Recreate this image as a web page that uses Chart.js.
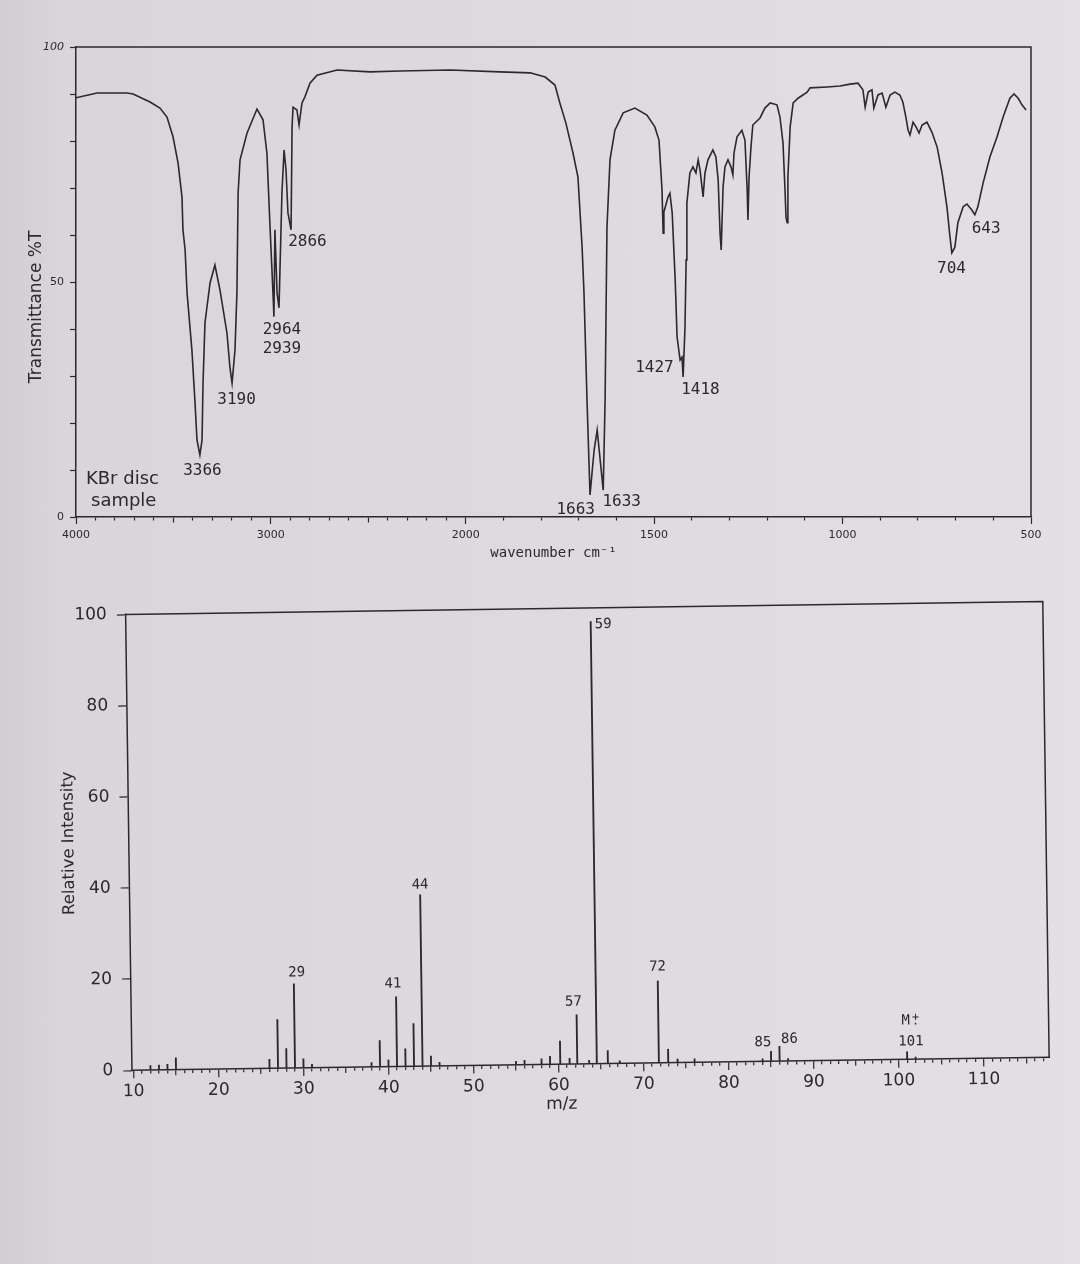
<!DOCTYPE html>
<html>
<head>
<meta charset="utf-8">
<script src="https://cdn.jsdelivr.net/npm/chart.js@4/dist/chart.umd.min.js"></script>
<style>
html,body{margin:0;padding:0;}
body{width:1080px;height:1264px;overflow:hidden;position:relative;
  background:linear-gradient(90deg,#d2cdd2 0px,#dad5da 60px,#dedade 600px,#e3e0e4 1080px);}
#irWrap{position:absolute;left:0;top:0;width:1080px;height:575px;}
#msWrap{position:absolute;left:0;top:580px;width:1080px;height:560px;}
canvas{display:block;}
</style>
</head>
<body>
<div id="irWrap"><canvas id="ir" width="1080" height="575"></canvas></div>
<div id="msWrap"><canvas id="ms" width="1080" height="560"></canvas></div>
<script>
// ---------------- IR spectrum data (wavenumber cm-1, %T) ----------------
const irWavenumber = [4000,3892,3738,3707,3620,3569,3533,3502,3476,3456,3451,3440,3430,3405,3389,3379,3364,3353,3348,3338,3312,3287,3261,3225,3210,3199,3184,3174,3168,3158,3122,3071,3040,3020,3004,2989,2984,2979,2968,2958,2943,2932,2922,2912,2896,2891,2886,2866,2855,2840,2825,2799,2763,2660,2491,2337,2080,1909,1829,1789,1763,1750,1734,1715,1702,1691,1686,1678,1670,1659,1651,1643,1635,1630,1625,1617,1604,1582,1551,1519,1498,1487,1479,1476,1474,1463,1458,1452,1444,1439,1431,1426,1423,1418,1415,1413,1405,1397,1389,1383,1378,1370,1365,1357,1344,1336,1330,1325,1322,1317,1312,1304,1296,1291,1288,1280,1267,1259,1253,1251,1248,1243,1238,1219,1206,1192,1174,1166,1158,1153,1150,1147,1145,1139,1131,1118,1094,1086,1041,1007,980,959,946,940,932,922,917,906,895,885,874,861,848,840,832,826,821,813,805,797,789,776,763,749,736,723,715,710,702,694,680,670,657,649,641,627,609,590,574,556,545,534,524,513];
const irTransmittance = [89.2,90.2,90.2,90.0,88.3,87.0,85.1,80.9,75.3,68.1,61.1,56.8,47.7,35.5,24.3,16.4,13.2,16.4,28.5,41.3,49.8,53.6,48.3,39.1,31.9,28.5,35.5,47.7,68.9,76.0,81.7,86.8,84.5,77.4,61.7,47.7,42.6,61.1,47.7,44.5,68.9,78.1,73.8,64.7,61.1,83.0,87.2,86.6,83.4,88.1,89.4,92.3,94.0,95.1,94.7,94.9,95.1,94.7,94.5,93.6,91.9,88.1,83.8,77.4,72.3,57.4,47.7,24.9,4.7,14.3,18.5,12.1,5.7,24.9,61.7,76.0,82.3,86.0,87.0,85.5,83.0,80.2,69.6,60.4,64.9,68.1,68.9,64.7,50.4,38.3,33.4,34.0,29.8,40.4,54.7,66.8,73.2,74.5,73.2,76.0,73.8,68.1,73.2,76.0,78.1,76.6,71.7,60.4,56.8,70.2,74.5,76.0,74.5,72.8,77.4,80.9,82.3,80.2,69.6,63.2,72.3,78.7,83.4,84.9,87.0,88.1,87.7,85.1,79.6,70.2,63.8,62.6,72.3,83.0,88.1,89.1,90.4,91.3,91.5,91.7,92.1,92.3,90.9,87.2,90.4,90.9,87.0,89.8,90.2,87.2,89.8,90.4,89.8,88.3,85.1,82.3,81.3,84.0,83.0,81.7,83.4,84.0,81.9,78.7,73.2,66.0,59.6,56.2,57.4,62.6,66.0,66.6,65.3,64.3,66.0,71.1,76.6,80.9,85.1,89.1,90.0,89.1,87.7,86.6];
const irTickLabels = [4000, 3000, 2000, 1500, 1000, 500];
const irMidTicks = [3500, 2500];
const irYTickLabels = [0, 50, 100];
const irPeakLabels = ['3366','3190','2964','2939','2866','1663','1633','1427','1418','704','643'];
const irNoteLines = ['KBr disc', 'sample'];

// ---------------- Mass spectrum data (m/z, relative intensity) ----------------
const msMz = [12,13,14,15,26,27,28,29,30,31,38,39,40,41,42,43,44,45,46,55,56,58,59,60.2,61.3,62.2,63.6,64.5,65.8,67.2,71.8,72.9,74,76,84,85,86,87,101,102];
const msIntensity = [1.0,1.1,1.2,2.6,2.0,10.7,4.3,18.5,2.0,0.8,1.0,5.8,1.5,15.3,3.9,9.4,37.6,2.2,0.8,0.8,1.0,1.3,1.8,5.1,1.3,10.8,0.8,97,2.9,0.6,18.0,3.0,0.8,0.8,0.6,2.2,3.3,0.6,1.7,0.5];
const msPeakLabels = ['29','41','44','57','59','72','85','86','101'];
const msPeakIndex  = [7, 13, 16, 25, 27, 30, 35, 36, 38];
const msXTickLabels = [10,20,30,40,50,60,70,80,90,100,110];
const msYTickLabels = [0,20,40,60,80,100];

// ---------------- styling / layout (not data) ----------------
const INK = '#2b292c';
const SANS = '"DejaVu Sans", "Noto Sans", sans-serif';
const MONO = '"DejaVu Sans Mono", "Liberation Mono", monospace';
const MS_TILT = -0.8 * Math.PI / 180;   // page photographed slightly rotated
const irLabelPos = { // [wavenumber, %T] anchor of each annotation centre
  '3366':[3351,9.9], '3190':[3176,24.9], '2964':[2943,39.8], '2939':[2943,35.7], '2866':[2812,58.6],
  '1663':[1708,1.5], '1633':[1586,3.2], '1427':[1499,31.7], '1418':[1377,27.0], '704':[711,52.8], '643':[619,61.3]
};
const irNotePos = [[3949,8.0],[3923,3.3]];
const msLabelOffset = { // px offsets from bar top: [dx, dy(up), align]
  '29':[3,11,'center'], '41':[-3,13,'center'], '44':[0,10,'center'], '57':[-3,13,'center'],
  '59':[4,-3,'left'], '72':[0,14,'center'], '85':[-8,9,'center'], '86':[10,7,'center'], '101':[4,10,'center']
};

// ---------------- custom IR wavenumber scale (2x expansion below 2000) ----------------
const WAVE_HI = 4000, WAVE_LO = 500, WAVE_BREAK = 2000, WAVE_BREAK_FRAC = 0.408;
function waveFrac(v){
  if (v >= WAVE_BREAK) return (WAVE_HI - v) / (WAVE_HI - WAVE_BREAK) * WAVE_BREAK_FRAC;
  return WAVE_BREAK_FRAC + (WAVE_BREAK - v) / (WAVE_BREAK - WAVE_LO) * (1 - WAVE_BREAK_FRAC);
}
function waveInv(f){
  if (f <= WAVE_BREAK_FRAC) return WAVE_HI - f / WAVE_BREAK_FRAC * (WAVE_HI - WAVE_BREAK);
  return WAVE_BREAK - (f - WAVE_BREAK_FRAC) / (1 - WAVE_BREAK_FRAC) * (WAVE_BREAK - WAVE_LO);
}
class WaveScale extends Chart.LinearScale {
  buildTicks(){ const t = []; for (let v = WAVE_HI; v >= WAVE_LO; v -= 100) t.push({value: v}); return t; }
  getPixelForValue(v){ return this.getPixelForDecimal(waveFrac(v)); }
  getValueForPixel(p){ return waveInv(this.getDecimalForPixel(p)); }
}
WaveScale.id = 'wave';
WaveScale.defaults = Chart.LinearScale.defaults;
Chart.register(WaveScale);

function frame(ctx, a){
  ctx.save();
  ctx.strokeStyle = INK; ctx.lineWidth = 1.5;
  ctx.beginPath(); ctx.moveTo(a.left, a.top); ctx.lineTo(a.right, a.top); ctx.lineTo(a.right, a.bottom); ctx.stroke();
  ctx.restore();
}

// ---------------- IR chart ----------------
const irOverlay = {
  id: 'irOverlay',
  afterDraw(chart){
    const ctx = chart.ctx, xs = chart.scales.x, ys = chart.scales.y;
    frame(ctx, chart.chartArea);
    ctx.save();
    ctx.fillStyle = INK;
    ctx.font = '16px ' + MONO; ctx.textAlign = 'center'; ctx.textBaseline = 'middle';
    irPeakLabels.forEach(l => { const p = irLabelPos[l]; ctx.fillText(l, xs.getPixelForValue(p[0]), ys.getPixelForValue(p[1])); });
    ctx.font = '18px ' + SANS; ctx.textAlign = 'left';
    irNoteLines.forEach((l, i) => ctx.fillText(l, xs.getPixelForValue(irNotePos[i][0]), ys.getPixelForValue(irNotePos[i][1])));
    ctx.translate(37, ys.getPixelForValue(44.7)); ctx.rotate(-Math.PI / 2);
    ctx.font = '17px ' + SANS; ctx.textAlign = 'center';
    ctx.fillText('Transmittance %T', 0, 0);
    ctx.restore();
  }
};

new Chart(document.getElementById('ir'), {
  type: 'line',
  data: { datasets: [{
    data: irWavenumber.map((w, i) => ({x: w, y: irTransmittance[i]})),
    borderColor: INK, borderWidth: 1.6, pointRadius: 0, tension: 0, fill: false
  }]},
  options: {
    responsive: false, animation: false, devicePixelRatio: 1,
    layout: { padding: { left: 0, top: 47, right: 49, bottom: 0 } },
    plugins: { legend: { display: false }, tooltip: { enabled: false } },
    scales: {
      x: {
        type: 'wave', min: WAVE_LO, max: WAVE_HI,
        afterFit: s => { s.height = 58; },
        border: { color: INK, width: 1.5 },
        grid: { drawOnChartArea: false, tickLength: 7, tickColor: INK, tickWidth: 1.2,
          tickBorderDash: c => irTickLabels.includes(c.tick.value) ? [] : (irMidTicks.includes(c.tick.value) ? [5, 40] : [3, 40]) },
        ticks: { autoSkip: false, maxRotation: 0, padding: 5, color: INK,
          font: { family: SANS, size: 11 },
          callback: v => irTickLabels.includes(v) ? String(v) : '' },
        title: { display: true, text: 'wavenumber cm\u207B\u00B9', color: INK,
          font: { family: MONO, size: 14 }, padding: { top: 0, bottom: 13 } }
      },
      y: {
        type: 'linear', min: 0, max: 100,
        afterFit: s => { s.width = 76; },
        border: { color: INK, width: 1.5 },
        grid: { drawOnChartArea: false, tickLength: 6, tickColor: INK, tickWidth: 1.2 },
        ticks: { stepSize: 10, padding: 6, color: INK,
          font: c => ({ family: SANS, size: 11, style: (c.tick && c.tick.value === 100) ? 'italic' : 'normal' }),
          callback: v => irYTickLabels.includes(v) ? String(v) : '' }
      }
    }
  },
  plugins: [irOverlay]
});

// ---------------- Mass spectrum chart ----------------
const msOverlay = {
  id: 'msOverlay',
  beforeDraw(chart){
    const ctx = chart.ctx, a = chart.chartArea;
    const cx = (a.left + a.right) / 2, cy = (a.top + a.bottom) / 2;
    ctx.save();
    ctx.translate(cx, cy); ctx.rotate(MS_TILT); ctx.translate(-cx, -cy);
  },
  afterDraw(chart){
    const ctx = chart.ctx, xs = chart.scales.x, ys = chart.scales.y;
    frame(ctx, chart.chartArea);
    ctx.save();
    ctx.fillStyle = INK; ctx.textBaseline = 'middle';
    ctx.font = '14px ' + MONO;
    msPeakLabels.forEach((l, k) => {
      const i = msPeakIndex[k], o = msLabelOffset[l];
      ctx.textAlign = o[2];
      ctx.fillText(l, xs.getPixelForValue(msMz[i]) + o[0], ys.getPixelForValue(msIntensity[i]) - o[1]);
    });
    const iM = msPeakIndex[msPeakLabels.indexOf('101')];
    const mx = xs.getPixelForValue(msMz[iM]) + 4, my = ys.getPixelForValue(msIntensity[iM]) - 31;
    ctx.textAlign = 'center';
    ctx.fillText('M', mx - 5, my);
    ctx.font = '12px ' + MONO;
    ctx.fillText('+', mx + 5, my - 3);
    ctx.fillText('\u00B7', mx + 5, my + 4);
    ctx.font = '17px ' + SANS;
    ctx.fillText('m/z', xs.getPixelForValue(60.3), chart.chartArea.bottom + 40);
    ctx.restore();
    ctx.restore(); // undo tilt from beforeDraw
  }
};

new Chart(document.getElementById('ms'), {
  type: 'bar',
  data: { datasets: [{
    data: msMz.map((m, i) => ({x: m, y: msIntensity[i]})),
    backgroundColor: INK, borderWidth: 0, barThickness: 1.2
  }]},
  options: {
    responsive: false, animation: false, devicePixelRatio: 1,
    layout: { padding: { left: 0, top: 28, right: 34, bottom: 0 } },
    plugins: { legend: { display: false }, tooltip: { enabled: false } },
    scales: {
      x: {
        type: 'linear', min: 9.85, max: 117.7, offset: false,
        afterBuildTicks: s => { const t = []; for (let v = 10; v <= 117; v++) t.push({value: v}); s.ticks = t; },
        afterFit: s => { s.height = 76; },
        border: { color: INK, width: 1.5 },
        grid: { drawOnChartArea: false, offset: false, tickLength: 8, tickColor: INK, tickWidth: 1.2,
          tickBorderDash: c => msXTickLabels.includes(c.tick.value) ? [] : (c.tick.value % 5 === 0 ? [5, 40] : [3, 40]) },
        ticks: { autoSkip: false, maxRotation: 0, padding: 3, color: INK,
          font: { family: SANS, size: 17 },
          callback: v => msXTickLabels.includes(v) ? String(v) : '' }
      },
      y: {
        type: 'linear', min: 0, max: 100,
        afterBuildTicks: s => { s.ticks = msYTickLabels.map(v => ({value: v})); },
        afterFit: s => { s.width = 129; },
        border: { color: INK, width: 1.5 },
        grid: { drawOnChartArea: false, tickLength: 9, tickColor: INK, tickWidth: 1.2 },
        ticks: { padding: 10, color: INK, font: { family: SANS, size: 17 } },
        title: { display: true, text: 'Relative Intensity', color: INK,
          font: { family: SANS, size: 16.5 }, padding: { top: 59, bottom: 0 } }
      }
    }
  },
  plugins: [msOverlay]
});
</script>
</body>
</html>
